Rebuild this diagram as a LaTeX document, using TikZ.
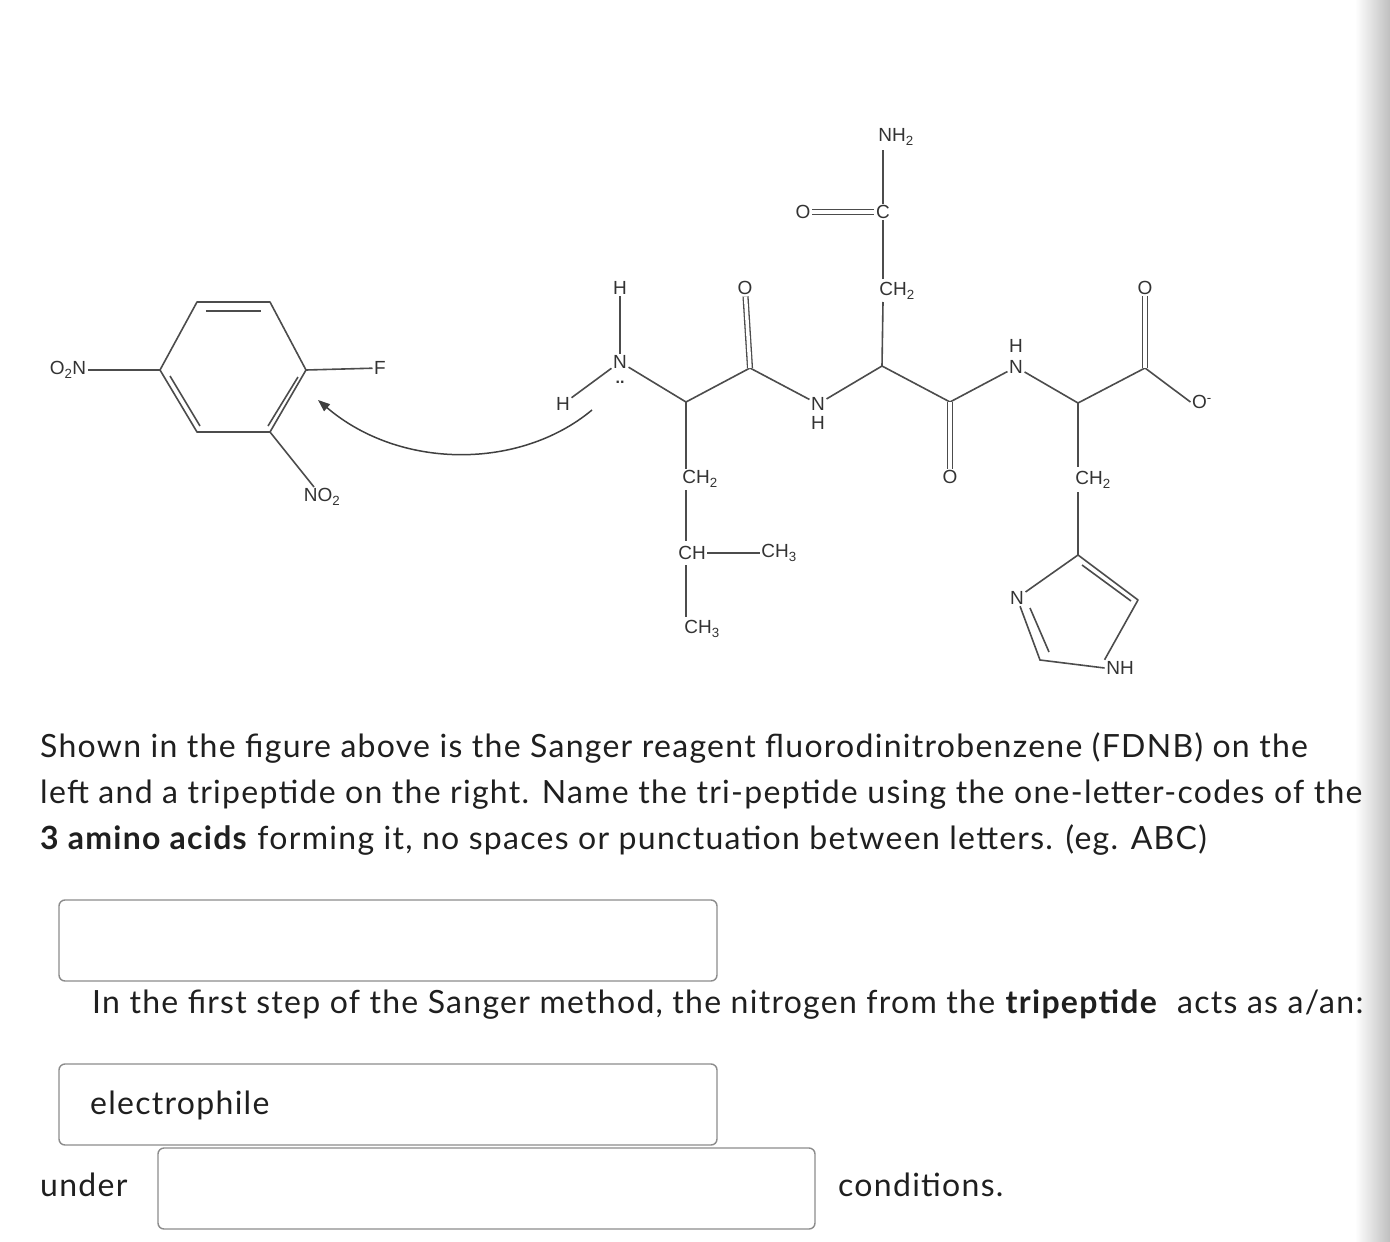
\documentclass[tikz,border=0pt]{standalone}
\usepackage{fontspec}
\setmainfont{Lato}[LetterSpace=4]
\newfontfamily\chem{Liberation Sans}
\usetikzlibrary{arrows.meta,calc}
\begin{document}
\begin{tikzpicture}[x=1pt,y=-1pt,
  atom/.style={font=\chem\fontsize{19}{21}\selectfont,inner sep=1.5pt,text=black!80},
  bond/.style={draw=black!70,line width=1.6pt},
  dbl/.style={draw=black!70,line width=1.3pt,double,double distance=3.5pt},
  txt/.style={font=\fontsize{32}{36}\selectfont,anchor=west,inner sep=0pt,text=black!88},
  ansbox/.style={draw=black!45,line width=1.4pt,rounded corners=6pt,fill=white}]
\useasboundingbox (0,0) rectangle (1390,1242);
\fill[white] (0,0) rectangle (1390,1242);
\shade[left color=white,right color=black!25] (1355,0) rectangle (1390,1242);
% ---- FDNB ring
\coordinate (r1) at (197,302); \coordinate (r2) at (270,302);
\coordinate (r3) at (306,370); \coordinate (r4) at (270,432);
\coordinate (r5) at (197,432); \coordinate (r6) at (160,370);
\draw[bond,line join=round] (r1)--(r2)--(r3)--(r4)--(r5)--(r6)--cycle;
\draw[bond] ($(r1)!0.12!(r2)+(0,9)$) -- ($(r1)!0.88!(r2)+(0,9)$);
\draw[bond] (298,377) -- (268,426) ;
\draw[bond] (170,376) -- (200,426);
\node[atom] (o2n) at (68,370) {O\textsubscript{2}N};
\node[atom] (f) at (380,368) {F};
\node[atom] (no2) at (322,497) {NO\textsubscript{2}};
\draw[bond] (o2n) -- (r6);
\draw[bond] (r3) -- (f);
\draw[bond] (r4) -- (no2);
% ---- peptide N-terminus
\node[atom] (h1) at (620,288) {H};
\node[atom] (n1) at (620,362) {N};
\node[atom] (h2) at (563,404) {H};
\node[atom,font=\chem\bfseries\fontsize{16}{16}\selectfont] at (620,382) {..};
\draw[bond] (h1) -- (n1);
\draw[bond] (h2) -- (n1);
\coordinate (ca1) at (686,402);
\coordinate (c1) at (750,368);
\node[atom] (o1) at (745,288) {O};
\node[atom] (n2) at (818,404) {N};
\node[atom] (hn2) at (818,423) {H};
\coordinate (ca2) at (882,366);
\coordinate (c2) at (950,402);
\node[atom] (o2) at (950,477) {O};
\node[atom] (n3) at (1016,367) {N};
\node[atom] (hn3) at (1016,346) {H};
\coordinate (ca3) at (1078,403);
\coordinate (c3) at (1145,368);
\node[atom] (o3) at (1145,288) {O};
\node[atom] (om) at (1202,402) {O\textsuperscript{-}};
\draw[bond,line join=round] (n1) -- (ca1) -- (c1) -- (n2) -- (ca2) -- (c2) -- (n3) -- (ca3) -- (c3) -- (om.west);
\draw[dbl] (c1) -- (o1);
\draw[dbl] (c2) -- (o2);
\draw[dbl] (c3) -- (o3);
% valine side chain
\node[atom] (v1) at (700,479) {CH\textsubscript{2}};
\node[atom] (v2) at (692,553) {CH};
\node[atom] (v3) at (779,553) {CH\textsubscript{3}};
\node[atom] (v4) at (702,629) {CH\textsubscript{3}};
\draw[bond] (ca1) -- (ca1 |- v1.north);
\draw[bond] (686,490) -- (686,541);
\draw[bond] (686,565) -- (686,617);
\draw[bond] (v2) -- (v3);
% asparagine side chain
\node[atom] (a1) at (897,291) {CH\textsubscript{2}};
\node[atom] (a2) at (883,212) {C};
\node[atom] (a3) at (803,212) {O};
\node[atom] (a4) at (896,137) {NH\textsubscript{2}};
\draw[bond] (ca2) -- (883,302);
\draw[bond] (883,279) -- (a2);
\draw[bond] (a2) -- (883,150);
\draw[dbl] (a3) -- (a2);
% histidine side chain
\node[atom] (h1c) at (1093,480) {CH\textsubscript{2}};
\draw[bond] (ca3) -- (1078,467);
\coordinate (i1) at (1078,555);
\coordinate (i2) at (1138,600);
\node[atom] (inh) at (1120,668) {NH};
\coordinate (i4) at (1040,660);
\node[atom] (in) at (1017,598) {N};
\draw[bond] (1078,492) -- (i1);
\draw[bond,line join=round] (in) -- (i1) -- (i2) -- (inh.north west) ;
\draw[bond] (inh.west) -- (i4) -- (in);
\draw[bond] (1082,565) -- (1131,601);
\draw[bond] (1030,608) -- (1049,652);
% arrow
\draw[black!75,line width=1.5pt,-{Triangle[length=12pt,width=9pt]}] (592,410) .. controls (520,470) and (400,470) .. (318,400);
% ---- text
\node[txt] (p1) at (40,748) {Shown in the figure above is the Sanger reagent fluorodinitrobenzene (FDNB) on the};
\node[txt] (p2) at (40,795) {left and a tripeptide on the right. Name the tri-peptide using the one-letter-codes of the};
\node[txt] (p3) at (40,840) {\textbf{3 amino acids} forming it, no spaces or punctuation between letters. (eg. ABC)};
\draw[ansbox] (59,900) rectangle (717,981);
\node[txt] (q2) at (92,1005) {In the first step of the Sanger method, the nitrogen from the \textbf{tripeptide}\ \ acts as a/an:};
\draw[ansbox] (59,1064) rectangle (717,1145);
\node[txt] (e) at (90,1105) {electrophile};
\node[txt] (u) at (40,1185) {under};
\draw[ansbox] (158,1148) rectangle (815,1229);
\node[txt] (c) at (838,1185) {conditions.};
\end{tikzpicture}
\end{document}
